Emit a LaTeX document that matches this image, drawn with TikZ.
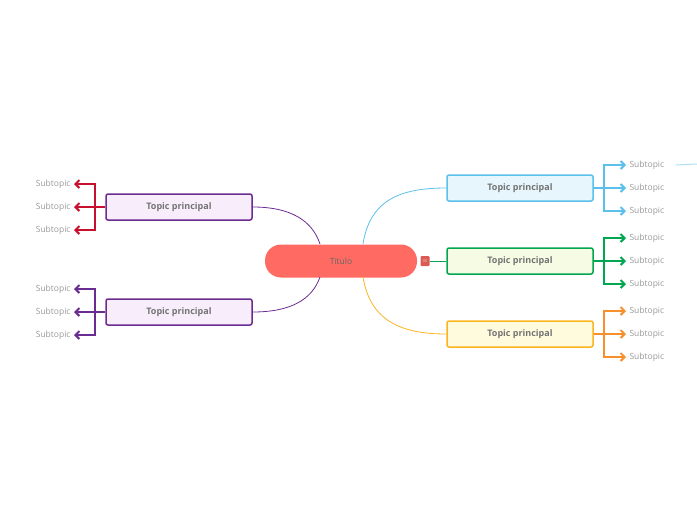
\documentclass[tikz,border=0pt]{standalone}
\usepackage{fontspec}
\setmainfont{Open Sans}
\usetikzlibrary{arrows.meta}
\definecolor{cblue}{HTML}{5BC0EB}
\definecolor{cgreen}{HTML}{00A650}
\definecolor{cyel}{HTML}{FBB321}
\definecolor{cora}{HTML}{F7902C}
\definecolor{cpur}{HTML}{6B2C91}
\definecolor{cred}{HTML}{C8102E}
\definecolor{ctit}{HTML}{FF6B63}
\definecolor{fgreen}{HTML}{F6FCE3}
\definecolor{fpur}{HTML}{F7EDFB}
\definecolor{fyel}{HTML}{FFFBDC}
\begin{document}
\begin{tikzpicture}[x=1pt,y=-1pt,
 topic/.style={draw=#1,line width=1.5pt,rounded corners=2pt,minimum width=146pt,minimum height=26pt,font=\bfseries\fontsize{9}{11}\selectfont,text=gray!90!black},
 sub/.style={font=\fontsize{8.5}{10}\selectfont,text=gray!80},
 br/.style={draw=#1,line width=2pt,-{Straight Barb[length=4pt,width=8pt]}}]
\useasboundingbox (0,0) rectangle (697,520);
\node[fill=ctit,rounded corners=16pt,minimum width=152pt,minimum height=33pt,font=\fontsize{8.5}{10}\selectfont,text=black!60] (t) at (341,261) {Titulo};
\node[fill=ctit!85!black,rounded corners=1pt,minimum width=9pt,minimum height=10pt,inner sep=0pt,font=\fontsize{6}{6}\selectfont,text=white!80!red] (ic) at (425,261) {$\equiv$};
\node[topic=cblue,fill=cblue!15] (b) at (520,188) {Topic principal};
\node[topic=cgreen,fill=fgreen] (g) at (520,261) {Topic principal};
\node[topic=cyel,fill=fyel] (y) at (520,334) {Topic principal};
\node[topic=cpur,fill=fpur] (p1) at (179,207) {Topic principal};
\node[topic=cpur,fill=fpur] (p2) at (179,312) {Topic principal};
\draw[cblue,line width=0.8pt] (363,244) .. controls (370,200) and (400,188) .. (b.west);
\draw[cgreen,line width=0.8pt] (ic) -- (g);
\draw[cyel,line width=0.8pt] (363,277) .. controls (370,320) and (400,334) .. (y.west);
\draw[cpur,line width=0.8pt] (320,244) .. controls (312,220) and (290,207) .. (p1.east);
\draw[cpur,line width=0.8pt] (320,277) .. controls (312,300) and (290,312) .. (p2.east);
\foreach \n/\c/\yy in {b/cblue/188,g/cgreen/261,y/cora/334}{
 \coordinate (\n j) at (604,\yy);
 \draw[\c,line width=2pt] (\n.east) -- (\n j);
 \draw[\c,line width=2pt] (604,\yy-23) -- (604,\yy+23);
 \foreach \d [count=\i] in {-23,0,23}{
  \node[sub,anchor=west] (\n s\i) at (626,\yy+\d) {Subtopic};
  \draw[br=\c] (603,\yy+\d) -- (\n s\i.west);
 }
}
\foreach \n/\c/\yy in {p1/cred/207,p2/cpur/312}{
 \draw[\c,line width=2pt] (\n.west) -- (95,\yy);
 \draw[\c,line width=2pt] (95,\yy-23) -- (95,\yy+23);
 \foreach \d [count=\i] in {-23,0,23}{
  \node[sub,anchor=east] (\n s\i) at (74,\yy+\d) {Subtopic};
  \draw[br=\c] (96,\yy+\d) -- (\n s\i.east);
 }
}
\coordinate (ex) at (697,164);
\draw[cblue!50,line width=1pt] (bs1.east)++(8,0) -- (ex);
\end{tikzpicture}
\end{document}
